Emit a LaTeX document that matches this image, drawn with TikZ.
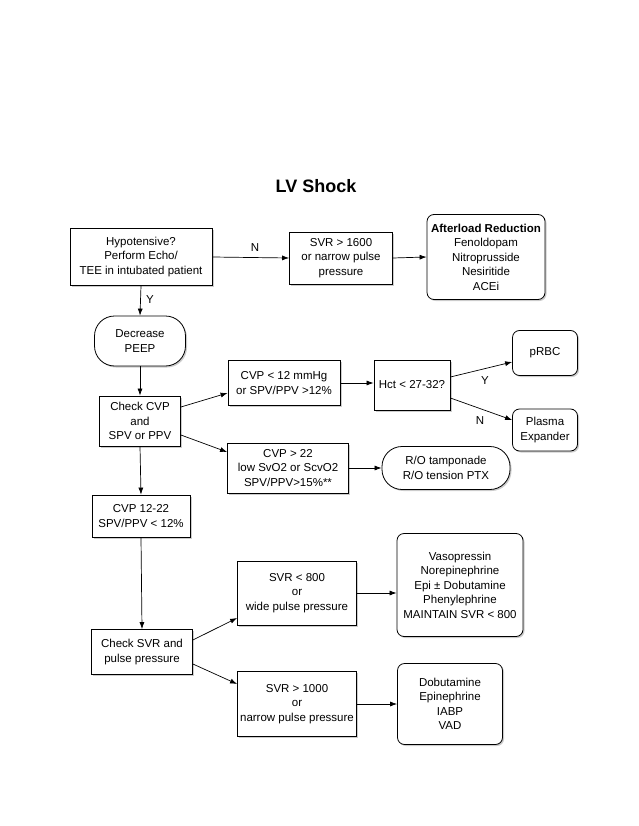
\documentclass[tikz,border=0pt]{standalone}
\usepackage{fontspec}
\setmainfont{Liberation Sans}
\usetikzlibrary{arrows.meta,shadows}
\begin{document}
\begin{tikzpicture}[x=1pt,y=-1pt,
  base/.style={draw=black,line width=0.8pt,fill=white,align=center,inner sep=1pt,
    font=\fontsize{11.5}{14.5}\selectfont,
    drop shadow={shadow xshift=1.5pt,shadow yshift=-1.5pt,fill=black!40}},
  box/.style={base},
  rbox/.style={base,rounded corners=7pt},
  pill/.style={base,rounded corners=20pt},
  arr/.style={-{Latex[length=7pt,width=5pt]},line width=0.7pt},
  lab/.style={font=\fontsize{11.5}{14}\selectfont}]
\useasboundingbox (0,0) rectangle (638,826);
\node[font=\bfseries\fontsize{18}{21}\selectfont] (title) at (316,186) {LV Shock};
\node[box,minimum width=142,minimum height=57] (hyp) at (141,257) {Hypotensive?\\Perform Echo/\\TEE in intubated patient};
\node[box,minimum width=103,minimum height=52] (svr1) at (341,258) {SVR > 1600\\or narrow pulse\\pressure};
\node[rbox,minimum width=118,minimum height=85] (after) at (486,257) {\textbf{Afterload Reduction}\\Fenoldopam\\Nitroprusside\\Nesiritide\\ACEi};
\node[pill,minimum width=91,minimum height=50] (peep) at (140,341) {Decrease\\PEEP};
\node[box,minimum width=81,minimum height=50] (chk) at (140,421) {Check CVP\\and\\SPV or PPV};
\node[box,minimum width=112,minimum height=45] (cvp12) at (284,383) {CVP < 12 mmHg\\or SPV/PPV >12\%};
\node[box,minimum width=76,minimum height=50] (hct) at (412,385) {Hct < 27-32?};
\node[rbox,minimum width=65,minimum height=45] (prbc) at (545,353) {pRBC};
\node[rbox,minimum width=65,minimum height=42] (plas) at (545,430) {Plasma\\Expander};
\node[box,minimum width=121,minimum height=50] (cvp22) at (288,468) {CVP > 22\\low SvO2 or ScvO2\\SPV/PPV>15\%**};
\node[pill,minimum width=128,minimum height=43] (ro) at (446,468) {R/O tamponade\\R/O tension PTX};
\node[box,minimum width=98,minimum height=42] (cvpmid) at (141,516) {CVP 12-22\\SPV/PPV < 12\%};
\node[box,minimum width=119,minimum height=64] (svr8) at (297,593) {SVR < 800\\or\\wide pulse pressure};
\node[rbox,minimum width=126,minimum height=103] (vaso) at (460,585) {Vasopressin\\Norepinephrine\\Epi ± Dobutamine\\Phenylephrine\\MAINTAIN SVR < 800};
\node[box,minimum width=101,minimum height=45] (chksvr) at (142,652) {Check SVR and\\pulse pressure};
\node[box,minimum width=119,minimum height=65] (svr10) at (297,704) {SVR > 1000\\or\\narrow pulse pressure};
\node[rbox,minimum width=105,minimum height=81] (dobu) at (450,704) {Dobutamine\\Epinephrine\\IABP\\VAD};
\draw[arr] (hyp.east) -- (svr1.west);
\draw[arr] (svr1.east) -- (after.west);
\draw[arr] (hyp.south) -- (peep.north);
\draw[arr] (peep.south) -- (chk.north);
\draw[arr] (chk.east |- 0,407) -- (cvp12.west |- 0,393);
\draw[arr] (chk.east |- 0,435) -- (cvp22.west |- 0,452);
\draw[arr] (chk.south) -- (cvpmid.north);
\draw[arr] (cvp12.east) -- (hct.west |- cvp12.east);
\draw[arr] (hct.east |- 0,377) -- (prbc.west |- 0,362);
\draw[arr] (hct.east |- 0,398) -- (plas.west |- 0,420);
\draw[arr] (cvp22.east) -- (ro.west);
\draw[arr] (cvpmid.south) -- (chksvr.north);
\draw[arr] (chksvr.east |- 0,640) -- (svr8.west |- 0,618);
\draw[arr] (chksvr.east |- 0,664) -- (svr10.west |- 0,684);
\draw[arr] (svr8.east) -- (vaso.west |- svr8.east);
\draw[arr] (svr10.east) -- (dobu.west |- svr10.east);
\node[lab] (ln) at (255,248) {N};
\node[lab] (ly) at (150,300) {Y};
\node[lab] (ly2) at (485,381) {Y};
\node[lab] (ln2) at (480,421) {N};
\end{tikzpicture}
\end{document}
